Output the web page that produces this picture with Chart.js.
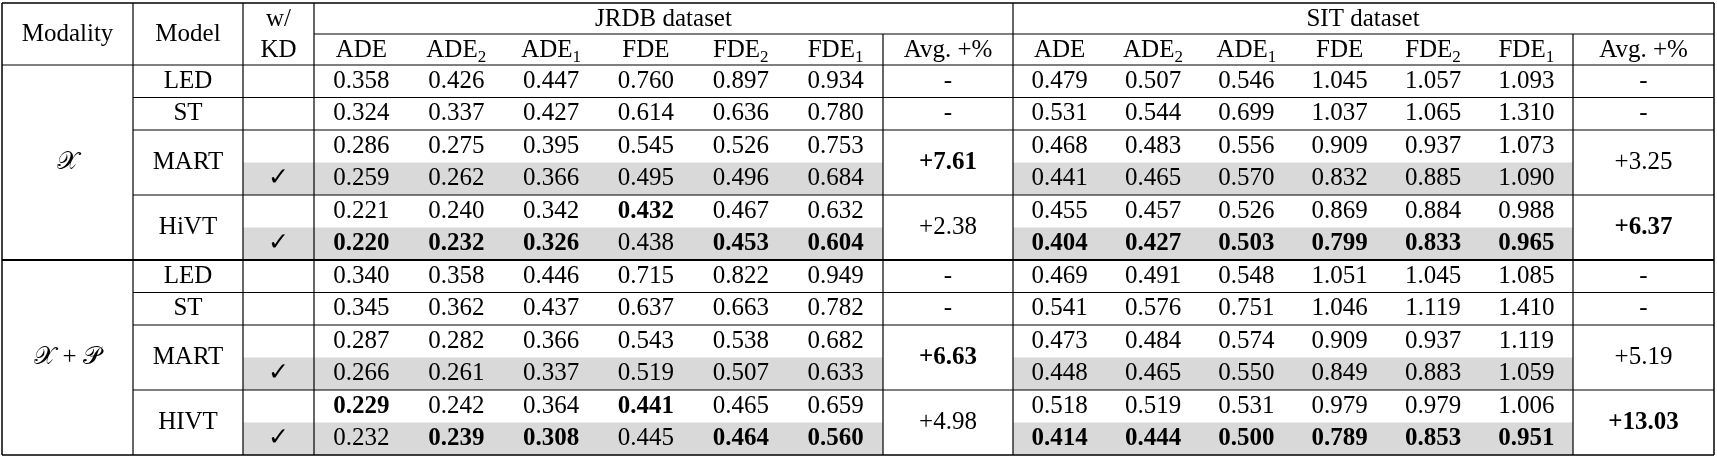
<!DOCTYPE html>
<html><head><meta charset="utf-8">
<script src="https://cdn.jsdelivr.net/npm/chart.js@4"></script>
<style>html,body{margin:0;padding:0;background:#fff}#w{width:1717px;height:457px;position:relative}</style>
</head><body><div id="w"><canvas id="c"></canvas></div>
<script>
// ---- data ----
const metricLabels = ["ADE","ADE|2","ADE|1","FDE","FDE|2","FDE|1"];
const datasetLabels = ["JRDB dataset","SIT dataset"];
const modalities = ["𝒳","𝒳 + 𝒫"];
const models = ["LED","ST","MART","MART","HiVT","HiVT","LED","ST","MART","MART","HIVT","HIVT"];
const withKD = [false,false,false,true,false,true,false,false,false,true,false,true];
const jrdbValues = [
 [0.358,0.426,0.447,0.760,0.897,0.934],
 [0.324,0.337,0.427,0.614,0.636,0.780],
 [0.286,0.275,0.395,0.545,0.526,0.753],
 [0.259,0.262,0.366,0.495,0.496,0.684],
 [0.221,0.240,0.342,0.432,0.467,0.632],
 [0.220,0.232,0.326,0.438,0.453,0.604],
 [0.340,0.358,0.446,0.715,0.822,0.949],
 [0.345,0.362,0.437,0.637,0.663,0.782],
 [0.287,0.282,0.366,0.543,0.538,0.682],
 [0.266,0.261,0.337,0.519,0.507,0.633],
 [0.229,0.242,0.364,0.441,0.465,0.659],
 [0.232,0.239,0.308,0.445,0.464,0.560]];
const sitValues = [
 [0.479,0.507,0.546,1.045,1.057,1.093],
 [0.531,0.544,0.699,1.037,1.065,1.310],
 [0.468,0.483,0.556,0.909,0.937,1.073],
 [0.441,0.465,0.570,0.832,0.885,1.090],
 [0.455,0.457,0.526,0.869,0.884,0.988],
 [0.404,0.427,0.503,0.799,0.833,0.965],
 [0.469,0.491,0.548,1.051,1.045,1.085],
 [0.541,0.576,0.751,1.046,1.119,1.410],
 [0.473,0.484,0.574,0.909,0.937,1.119],
 [0.448,0.465,0.550,0.849,0.883,1.059],
 [0.518,0.519,0.531,0.979,0.979,1.006],
 [0.414,0.444,0.500,0.789,0.853,0.951]];
const jrdbBold = [[],[],[],[],[3],[0,1,2,4,5],[],[],[],[],[0,3],[1,2,4,5]];
const sitBold  = [[],[],[],[],[],[0,1,2,3,4,5],[],[],[],[],[],[0,1,2,3,4,5]];
// avg: [startRow, span, text, bold]
const jrdbAvg = [[0,1,"-",false],[1,1,"-",false],[2,2,"+7.61",true],[4,2,"+2.38",false],[6,1,"-",false],[7,1,"-",false],[8,2,"+6.63",true],[10,2,"+4.98",false]];
const sitAvg  = [[0,1,"-",false],[1,1,"-",false],[2,2,"+3.25",false],[4,2,"+6.37",true],[6,1,"-",false],[7,1,"-",false],[8,2,"+5.19",false],[10,2,"+13.03",true]];

// ---- layout ----
const X = {L:2, mod:133, kd:243, d1:314, a1:883, d2:1013, a2:1573, R:1714};
const Y = {T:3, mid:34, H:65, B:455};
const rowH = (Y.B - Y.H)/12;
const FONT = '"Liberation Serif","DejaVu Serif",serif';
const FS = 25;

const cellPts = [];
models.forEach((m,i)=>cellPts.push({x:0,y:0}));

const tablePlugin = {
 id:'table',
 afterDraw(chart){
  const ctx = chart.ctx, sx = chart.scales.x, sy = chart.scales.y;
  const px = v=>sx.getPixelForValue(v), py = v=>sy.getPixelForValue(v);
  const rowTop = r=>Y.H + r*rowH;
  const colC = (a,b,k)=> a + (b-a)/6*(k+0.5);
  ctx.save();
  // shading
  ctx.fillStyle = '#d9d9d9';
  withKD.forEach((kd,r)=>{ if(!kd) return;
    const t=py(rowTop(r)), b=py(rowTop(r+1));
    ctx.fillRect(px(X.kd), t, px(X.a1)-px(X.kd), b-t);
    ctx.fillRect(px(X.d2), t, px(X.a2)-px(X.d2), b-t);
  });
  // lines
  ctx.strokeStyle='#000';
  const hl=(y,x1,x2,w)=>{ctx.lineWidth=w||1.2;ctx.beginPath();ctx.moveTo(px(x1),py(y));ctx.lineTo(px(x2),py(y));ctx.stroke();};
  const vl=(x,y1,y2,w)=>{ctx.lineWidth=w||1.2;ctx.beginPath();ctx.moveTo(px(x),py(y1));ctx.lineTo(px(x),py(y2));ctx.stroke();};
  hl(Y.T,X.L,X.R,1.5); hl(Y.B,X.L,X.R,1.5);
  hl(Y.mid,X.d1,X.R); hl(Y.H,X.L,X.R);
  hl(rowTop(6),X.L,X.R,2.2);
  [0,6].forEach(g=>{ [1,2,4].forEach(k=>hl(rowTop(g+k),X.mod,X.R)); });
  vl(X.L,Y.T,Y.B,1.5); vl(X.R,Y.T,Y.B,1.5);
  [X.mod,X.kd,X.d1,X.d2].forEach(x=>vl(x,Y.T,Y.B));
  [X.a1,X.a2].forEach(x=>vl(x,Y.mid,Y.B));
  // text helper
  ctx.fillStyle='#000'; ctx.textBaseline='middle';
  const txt=(s,x,y,bold,size)=>{
    size=size||FS;
    const parts=s.split('|');
    ctx.font=(bold?'bold ':'')+size+'px '+FONT;
    const w0=ctx.measureText(parts[0]).width;
    let w1=0; if(parts[1]){ctx.font=(size*0.68)+'px '+FONT; w1=ctx.measureText(parts[1]).width;}
    let x0=px(x)-(w0+w1)/2, yy=py(y);
    ctx.textAlign='left';
    ctx.font=(bold?'bold ':'')+size+'px '+FONT; ctx.fillText(parts[0],x0,yy);
    if(parts[1]){ctx.font=(size*0.68)+'px '+FONT; ctx.fillText(parts[1],x0+w0,yy+size*0.28);}
  };
  // header
  txt("Modality",(X.L+X.mod)/2,(Y.T+Y.H)/2);
  txt("Model",(X.mod+X.kd)/2,(Y.T+Y.H)/2);
  txt("w/",(X.kd+X.d1)/2,(Y.T+Y.mid)/2+1);
  txt("KD",(X.kd+X.d1)/2,(Y.mid+Y.H)/2+1);
  txt(datasetLabels[0],(X.d1+X.a1+130)/2,(Y.T+Y.mid)/2+1);
  txt(datasetLabels[1],(X.d2+X.a2+140)/2,(Y.T+Y.mid)/2+1);
  const hy=(Y.mid+Y.H)/2+1;
  metricLabels.forEach((m,k)=>{ txt(m,colC(X.d1,X.a1,k),hy); txt(m,colC(X.d2,X.a2,k),hy); });
  txt("Avg. +%",(X.a1+X.d2)/2,hy); txt("Avg. +%",(X.a2+X.R)/2,hy);
  // modalities
  modalities.forEach((m,g)=>txt(m,(X.L+X.mod)/2,rowTop(g*6+3)));
  // body
  const ds = chart.data.datasets[0].data;
  ds.forEach((p,r)=>{
    const cy = p.y;
    if(r%6<2) txt(models[r],(X.mod+X.kd)/2,cy);
    else if(r%2===0) txt(models[r],(X.mod+X.kd)/2,rowTop(r+1));
    if(withKD[r]) txt("✓",(X.kd+X.d1)/2,cy);
    jrdbValues[r].forEach((v,k)=>txt(v.toFixed(3),colC(X.d1,X.a1,k),cy,jrdbBold[r].includes(k)));
    sitValues[r].forEach((v,k)=>txt(v.toFixed(3),colC(X.d2,X.a2,k),cy,sitBold[r].includes(k)));
  });
  jrdbAvg.forEach(a=>txt(a[2],(X.a1+X.d2)/2,rowTop(a[0]+a[1]/2),a[3]));
  sitAvg.forEach(a=>txt(a[2],(X.a2+X.R)/2,rowTop(a[0]+a[1]/2),a[3]));
  ctx.restore();
 }
};

new Chart(document.getElementById('c'),{
 type:'scatter',
 data:{datasets:[{data:models.map((m,r)=>({x:(X.d1+X.a1)/2,y:Y.H+(r+0.5)*rowH})),pointRadius:0}]},
 options:{responsive:true,maintainAspectRatio:false,animation:false,
  layout:{padding:0},
  plugins:{legend:{display:false},tooltip:{enabled:false}},
  scales:{x:{type:'linear',min:0,max:1717,display:false},
          y:{type:'linear',min:0,max:457,reverse:true,display:false}}},
 plugins:[tablePlugin]
});
</script></body></html>
